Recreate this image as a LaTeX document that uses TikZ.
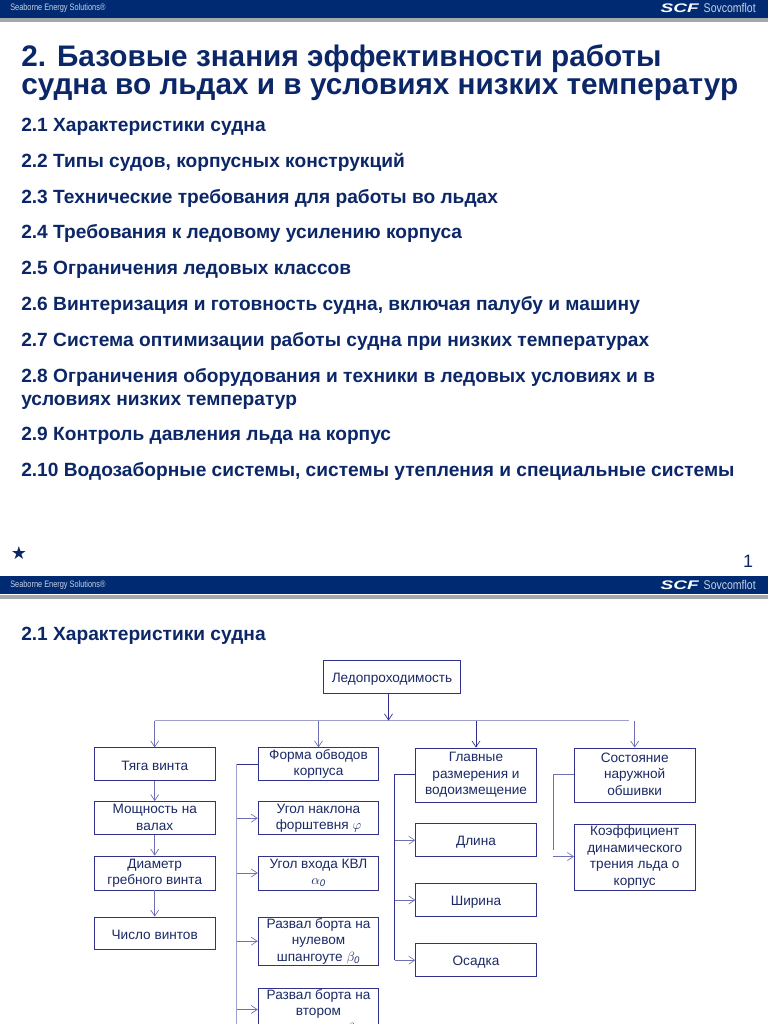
\documentclass[tikz,border=0pt]{standalone}
\usepackage{fontspec}
\usepackage{graphicx}
\setmainfont{Liberation Sans}
\newfontfamily\djv{DejaVu Sans}
\usetikzlibrary{arrows.meta}
\definecolor{navybar}{HTML}{002B73}
\definecolor{greybar}{HTML}{A3A8AC}
\definecolor{inktext}{HTML}{0C2768}
\definecolor{boxline}{HTML}{2F318C}
\definecolor{paleline}{HTML}{A0A0CE}
\definecolor{midline}{HTML}{6F70B4}
\definecolor{boxtext}{HTML}{1B2A66}
\definecolor{headtext}{HTML}{C9D2E2}
\tikzset{
  x=0.75pt,y=-0.75pt,
  titletext/.style={anchor=base west,inner sep=0pt,text=inktext,font=\fontsize{22.3pt}{26pt}\selectfont\bfseries},
  itemtext/.style={anchor=base west,inner sep=0pt,text=inktext,font=\fontsize{14.36pt}{17pt}\selectfont\bfseries},
  chartbox/.style={draw=boxline,line width=0.65pt,fill=white,align=center,inner sep=0pt,text=boxtext,
    minimum width=90.4pt,font=\fontsize{10.2pt}{12.3pt}\selectfont,
    execute at begin node={\rule{0pt}{10.4pt}},
    execute at end node={\rule[-1.4pt]{0pt}{1.4pt}}},
  arrowline/.style={draw=boxline,line width=0.6pt,-{Straight Barb[length=4.5pt,width=6pt,line width=0.5pt]}},
  paleline/.style={draw=paleline,line width=1.1pt},
  palearrow/.style={draw=midline,line width=0.7pt,-{Straight Barb[length=4.5pt,width=6pt,line width=0.5pt]}},
  headleft/.style={anchor=base west,inner sep=0pt,text=headtext,font=\fontsize{7pt}{8pt}\selectfont},
  headright/.style={anchor=base east,inner sep=0pt,text=headtext,font=\fontsize{9.5pt}{10pt}\selectfont},
  scflogo/.style={anchor=base east,inner sep=0pt,text=white,font=\fontsize{11pt}{12pt}\selectfont\bfseries\itshape},
}
\begin{document}
\begin{tikzpicture}
\useasboundingbox (0,0) rectangle (768,1024);
\clip (0,0) rectangle (768,1024);
\fill[white] (0,0) rectangle (768,1024);
% header bars
\fill[navybar] (0,0) rectangle (768,18);
\fill[greybar] (0,18) rectangle (768,22.5);
\fill[navybar] (0,576) rectangle (768,594);
\fill[greybar] (0,594.5) rectangle (768,599);
\node[headleft] (hl1) at (10,11) {\scalebox{0.79}[1]{Seaborne Energy Solutions®}};
\node[headright] (hr1) at (756,13) {\scalebox{0.83}[1]{Sovcomflot}};
\node[scflogo] (sc1) at (699,13) {\scalebox{1.3}[0.85]{SCF}};
\node[headleft] (hl2) at (10,587) {\scalebox{0.79}[1]{Seaborne Energy Solutions®}};
\node[headright] (hr2) at (756,589) {\scalebox{0.83}[1]{Sovcomflot}};
\node[scflogo] (sc2) at (699,589) {\scalebox{1.3}[0.85]{SCF}};
% slide 1
\node[titletext] (t1) at (21,67) {2. Базовые знания эффективности работы};
\node[titletext] (t2) at (21,94.5) {судна во льдах и в условиях низких температур};
\node[itemtext] (i1) at (21,131) {2.1 Характеристики судна};
\node[itemtext] (i2) at (21,167) {2.2 Типы судов, корпусных конструкций};
\node[itemtext] (i3) at (21,203) {2.3 Технические требования для работы во льдах};
\node[itemtext] (i4) at (21,238) {2.4 Требования к ледовому усилению корпуса};
\node[itemtext] (i5) at (21,274) {2.5 Ограничения ледовых классов};
\node[itemtext] (i6) at (21,310) {2.6 Винтеризация и готовность судна, включая палубу и машину};
\node[itemtext] (i7) at (21,346) {2.7 Система оптимизации работы судна при низких температурах};
\node[itemtext] (i8) at (21,382) {2.8 Ограничения оборудования и техники в ледовых условиях и в};
\node[itemtext] (i8b) at (21,405) {условиях низких температур};
\node[itemtext] (i9) at (21,440.5) {2.9 Контроль давления льда на корпус};
\node[itemtext] (i10) at (21,476.5) {2.10 Водозаборные системы, системы утепления и специальные системы};
\node[inner sep=0pt,text=inktext,font=\djv\fontsize{13.5pt}{14pt}\selectfont] (star) at (19,553) {★};
\node[inner sep=0pt,text=inktext,font=\fontsize{13.5pt}{14pt}\selectfont] (num) at (748,561.5) {1};
% slide 2
\node[itemtext] (s2) at (21,640.5) {2.1 Характеристики судна};
% boxes
\node[chartbox,minimum width=102.75pt,minimum height=24.75pt] (top) at (392,676.5) {Ледопроходимость};
\node[chartbox,minimum height=24.5pt] (a1) at (154.7,764.2) {Тяга винта};
\node[chartbox,minimum height=25pt] (a2) at (154.7,818.2) {Мощность на\\валах};
\node[chartbox,minimum height=25.5pt] (a3) at (154.7,873) {Диаметр\\гребного винта};
\node[chartbox,minimum height=24pt] (a4) at (154.7,933) {Число винтов};
\node[chartbox,minimum height=24.5pt] (b1) at (318.5,764.2) {Форма обводов\\корпуса};
\node[chartbox,minimum height=25pt] (b2) at (318.5,818.2) {Угол наклона\\форштевня $\varphi$};
\node[chartbox,minimum height=25.5pt] (b3) at (318.5,873) {Угол входа КВЛ\\$\alpha_{\mathit{0}}$};
\node[chartbox,minimum height=36.4pt] (b4) at (318.5,941.2) {Развал борта на\\нулевом\\шпангоуте $\beta_{\mathit{0}}$};
\node[chartbox,minimum height=36.4pt,anchor=north] (b5) at (318.5,987.5) {Развал борта на\\втором\\шпангоуте $\beta_{\mathit{2}}$};
\node[chartbox,minimum height=40.5pt] (c1) at (476,775) {Главные\\размерения и\\водоизмещение};
\node[chartbox,minimum height=24.5pt] (c2) at (476,840.2) {Длина};
\node[chartbox,minimum height=24.75pt] (c3) at (476,900) {Ширина};
\node[chartbox,minimum height=24.5pt] (c4) at (476,960.2) {Осадка};
\node[chartbox,minimum height=40.5pt] (d1) at (634.7,775) {Состояние\\наружной\\обшивки};
\node[chartbox,minimum height=49.5pt] (d2) at (634.7,857) {Коэффициент\\динамического\\трения льда о\\корпус};
% junction points
\coordinate (busT) at (388.5,720.5);
\coordinate (topS) at (388.5,693.2);
\coordinate (busL) at (a1.north |- busT);
\coordinate (busR) at (629,720.5);
\coordinate (busB) at (b1.north |- busT);
\coordinate (busC) at (c1.north |- busT);
\coordinate (busD) at (d1.north |- busT);
\coordinate (spBe) at (236.5,1024);
\coordinate (spBs) at (236.5,764.2);
\coordinate (spB5) at (236.5,1009.5);
\coordinate (spC) at (394.5,774.5);
\coordinate (spD) at (553,774.5);
\coordinate (spDe) at (553,850);
\coordinate (spDa) at (553,856.5);
\coordinate (endD) at (d2.west |- spDa);
% connectors
\draw[paleline] (busL) -- (busR);
\draw[arrowline] (topS) -- (busT);
\draw[palearrow] (busL) -- (a1.north);
\draw[palearrow] (busB) -- (b1.north);
\draw[arrowline] (busC) -- (c1.north);
\draw[palearrow] (busD) -- (d1.north);
\draw[palearrow] (a1) -- (a2);
\draw[palearrow] (a2) -- (a3);
\draw[palearrow] (a3) -- (a4);
\draw[paleline] (spBs) -- (spBe);
\draw[draw=boxline,line width=0.6pt] (b1.west) -- (spBs);
\draw[palearrow] (spBs |- b2.west) -- (b2.west);
\draw[palearrow] (spBs |- b3.west) -- (b3.west);
\draw[palearrow] (spBs |- b4.west) -- (b4.west);
\draw[palearrow] (spB5) -- (b5.west |- spB5);
\draw[draw=boxline,line width=0.6pt] (c1.west |- spC) -- (spC) -- (spC |- c4.west);
\draw[palearrow] (spC |- c2.west) -- (c2.west);
\draw[palearrow] (spC |- c3.west) -- (c3.west);
\draw[palearrow] (spC |- c4.west) -- (c4.west);
\draw[draw=midline,line width=0.7pt] (d1.west |- spD) -- (spD) -- (spDe);
\draw[palearrow] (spDa) -- (endD);
\end{tikzpicture}
\end{document}
